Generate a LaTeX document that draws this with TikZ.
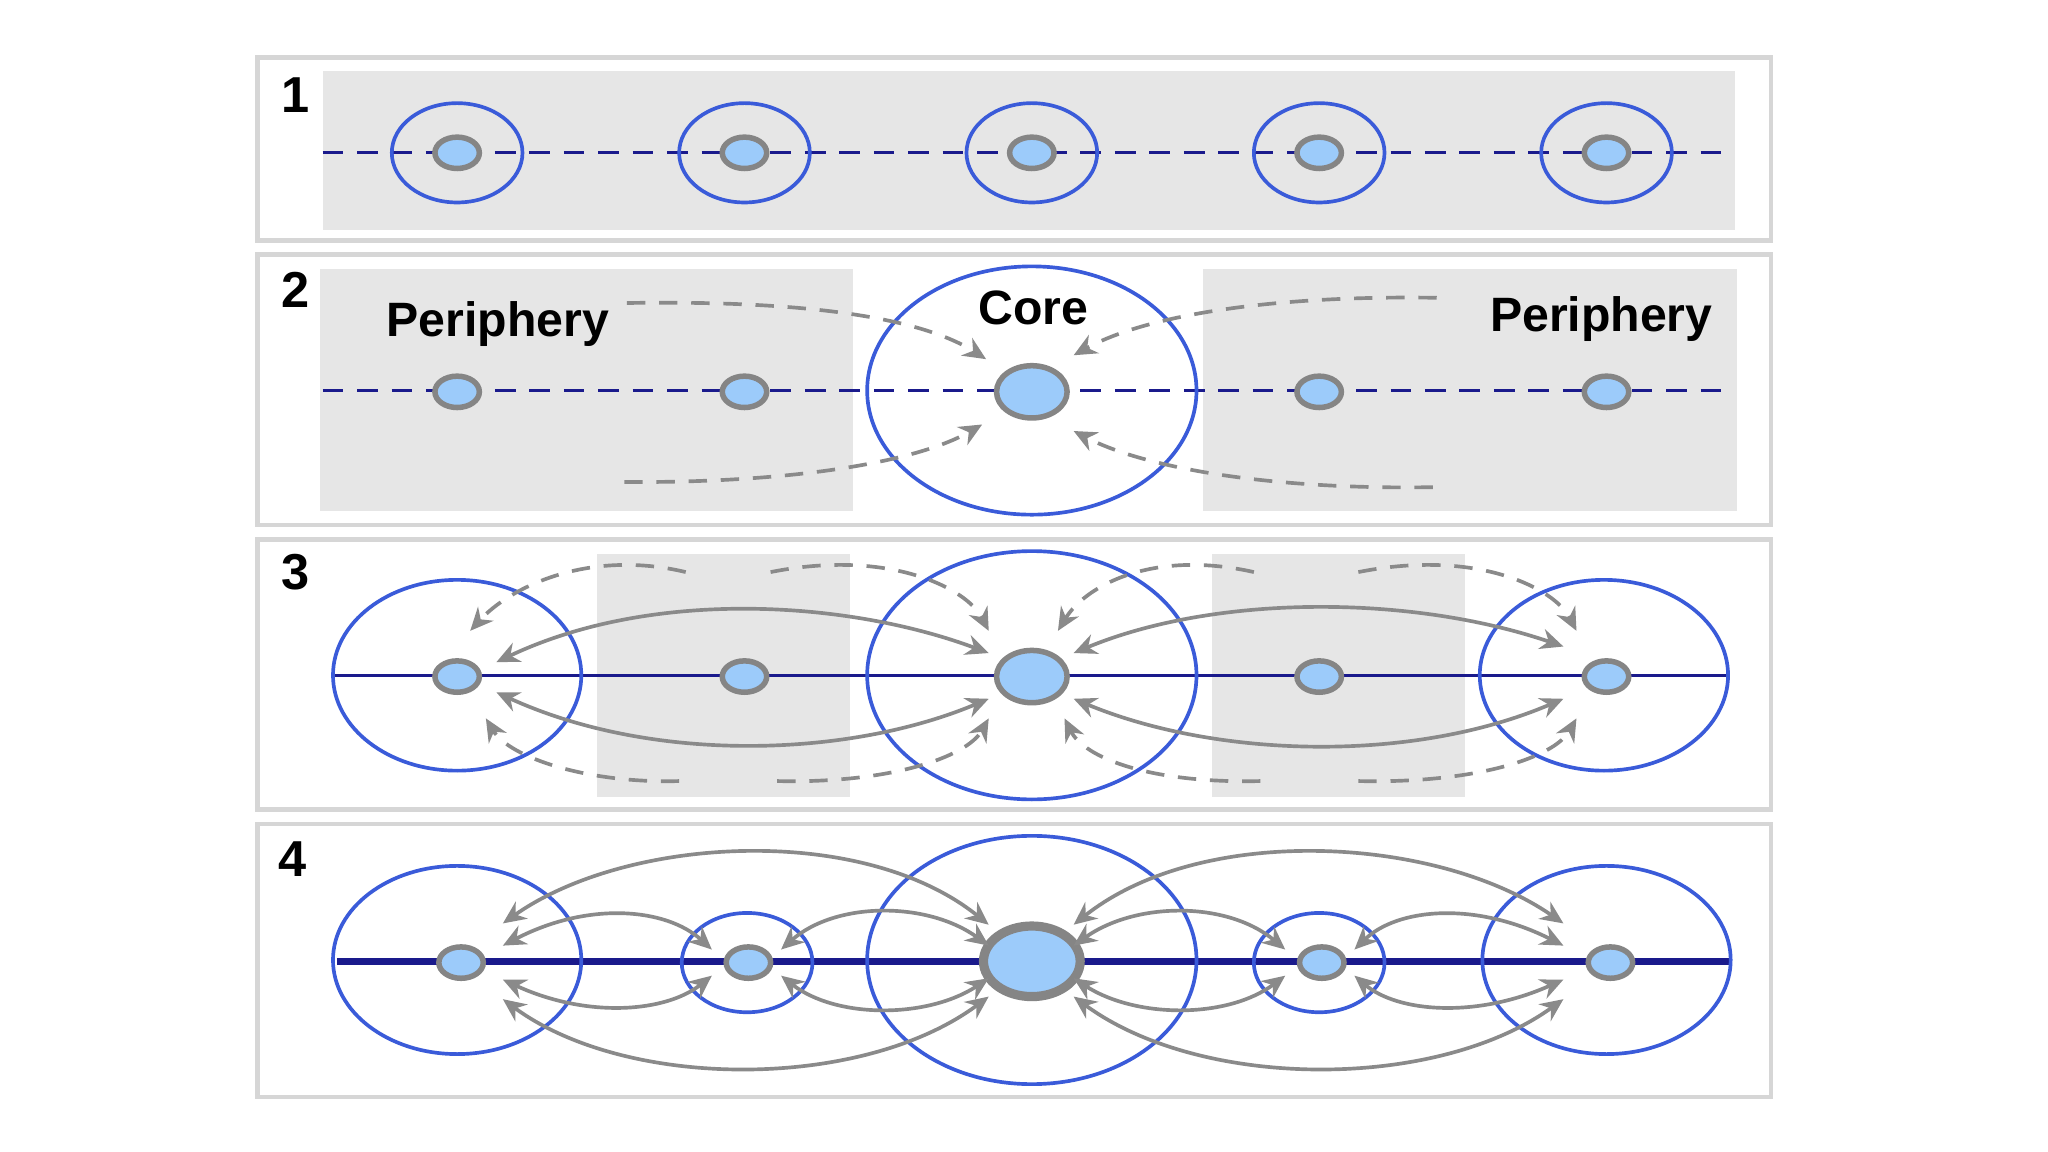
\documentclass[tikz,border=0pt]{standalone}
\usepackage{fontspec}
\setmainfont{Liberation Sans}
\usetikzlibrary{arrows.meta,shapes.geometric}
\definecolor{navy}{HTML}{1A1A8C}
\definecolor{ring}{HTML}{3A5BD9}
\definecolor{dotfill}{HTML}{9CCBFA}
\definecolor{dotline}{HTML}{858585}
\definecolor{panel}{HTML}{E6E6E6}
\definecolor{frame}{HTML}{D6D6D6}
\definecolor{arr}{HTML}{8A8A8A}
\tikzset{
 frm/.style={draw=frame,line width=1pt,fill=white},
 shade/.style={fill=panel,draw=none},
 ringl/.style={draw=ring,line width=0.8pt},
 dotn/.style={ellipse,draw=dotline,fill=dotfill,line width=1.2pt,inner sep=0pt,minimum width=0.34cm,minimum height=0.24cm},
 bigdot/.style={dotn,minimum width=0.54cm,minimum height=0.4cm},
 hugedot/.style={dotn,line width=2pt,minimum width=0.74cm,minimum height=0.54cm},
 axisd/.style={draw=navy,line width=0.7pt,dash pattern=on 4.5pt off 3pt},
 axiss/.style={draw=navy,line width=0.7pt},
 axist/.style={draw=navy,line width=1.6pt},
 ga/.style={draw=arr,line width=0.8pt,-{Stealth[length=5pt,width=4.5pt]}},
 gb/.style={draw=arr,line width=0.8pt,{Stealth[length=5pt,width=4.5pt]}-{Stealth[length=5pt,width=4.5pt]}},
 gd/.style={ga,dash pattern=on 4pt off 3pt},
 lab/.style={font=\bfseries\fontsize{10.5}{12}\selectfont},
 num/.style={font=\bfseries\fontsize{11}{13}\selectfont}
}
\begin{document}
\begin{tikzpicture}[x=0.01cm,y=-0.01cm]
\useasboundingbox (0,0) rectangle (1568,882);
% ---------- panel 1
\draw[frm] (197,44) rectangle (1356,184);
\fill[shade] (247,54) rectangle (1328,176);
\draw[axisd] (247,117) -- (1328,117);
\foreach \x [count=\i] in {350,570,790,1010,1230}{
 \draw[ringl] (\x,117) ellipse [x radius=0.5cm,y radius=0.38cm];
 \node[dotn] (a\i) at (\x,117) {};
}
\node[num] (n1) at (226,73) {1};
% ---------- panel 2
\draw[frm] (197,195) rectangle (1356,402);
\fill[shade] (245,206) rectangle (653,391);
\fill[shade] (921,206) rectangle (1330,391);
\fill[white] (790,299) ellipse [x radius=1.26cm,y radius=0.95cm];
\draw[axisd] (247,299) -- (1328,299);
\draw[ringl] (790,299) ellipse [x radius=1.26cm,y radius=0.95cm];
\node[dotn] (b1) at (350,300) {};
\node[dotn] (b2) at (570,300) {};
\node[bigdot] (b3) at (790,300) {};
\node[dotn] (b4) at (1010,300) {};
\node[dotn] (b5) at (1230,300) {};
\node[lab] (p1) at (381,248) {Periphery};
\node[lab] (c2) at (791,236) {Core};
\node[lab] (p2) at (1226,244) {Periphery};
\node[num] (n2) at (226,222) {2};
\coordinate (s1) at (480,232); \coordinate (e1) at (755,275);
\coordinate (s2) at (478,369); \coordinate (e2) at (752,325);
\coordinate (s3) at (1100,228); \coordinate (e3) at (822,272);
\coordinate (s4) at (1097,373); \coordinate (e4) at (822,330);
\draw[gd] (s1) .. controls (600,230) and (700,240) .. (e1);
\draw[gd] (s2) .. controls (600,370) and (700,355) .. (e2);
\draw[gd] (s3) .. controls (980,226) and (880,240) .. (e3);
\draw[gd] (s4) .. controls (980,375) and (880,360) .. (e4);
% ---------- panel 3
\draw[frm] (197,413) rectangle (1356,620);
\fill[shade] (457,424) rectangle (651,610);
\fill[shade] (928,424) rectangle (1122,610);
\fill[white] (790,517) ellipse [x radius=1.26cm,y radius=0.95cm];
\draw[axiss] (255,517) -- (1322,517);
\draw[ringl] (350,517) ellipse [x radius=0.95cm,y radius=0.73cm];
\draw[ringl] (790,517) ellipse [x radius=1.26cm,y radius=0.95cm];
\draw[ringl] (1228,517) ellipse [x radius=0.95cm,y radius=0.73cm];
\node[dotn] (c1) at (350,518) {};
\node[dotn] (c2n) at (570,518) {};
\node[bigdot] (c3) at (790,518) {};
\node[dotn] (c4) at (1010,518) {};
\node[dotn] (c5) at (1230,518) {};
\node[num] (n3) at (226,438) {3};
\draw[gb] (380,507) .. controls (500,450) and (650,460) .. (757,500);
\draw[gb] (380,530) .. controls (500,585) and (650,580) .. (757,535);
\draw[gb] (822,500) .. controls (930,455) and (1080,455) .. (1197,495);
\draw[gb] (822,535) .. controls (930,580) and (1080,585) .. (1197,535);
\draw[gd] (525,438) .. controls (450,420) and (390,450) .. (360,483);
\draw[gd] (590,438) .. controls (680,420) and (740,450) .. (757,483);
\draw[gd] (520,598) .. controls (450,600) and (390,580) .. (372,550);
\draw[gd] (595,598) .. controls (680,600) and (740,580) .. (757,550);
\draw[gd] (960,438) .. controls (880,420) and (830,450) .. (810,483);
\draw[gd] (1040,438) .. controls (1130,420) and (1190,450) .. (1207,483);
\draw[gd] (965,598) .. controls (880,600) and (830,580) .. (815,550);
\draw[gd] (1040,598) .. controls (1130,600) and (1190,580) .. (1207,550);
% ---------- panel 4
\draw[frm] (197,631) rectangle (1356,840);
\draw[axist] (258,736) -- (1325,736);
\draw[ringl] (350,735) ellipse [x radius=0.95cm,y radius=0.72cm];
\draw[ringl] (572,737) ellipse [x radius=0.5cm,y radius=0.38cm];
\draw[ringl] (790,735) ellipse [x radius=1.26cm,y radius=0.95cm];
\draw[ringl] (1010,737) ellipse [x radius=0.5cm,y radius=0.38cm];
\draw[ringl] (1230,735) ellipse [x radius=0.95cm,y radius=0.72cm];
\node[dotn] (d1) at (353,737) {};
\node[dotn] (d2) at (573,737) {};
\node[hugedot] (d3) at (790,736) {};
\node[dotn] (d4) at (1012,737) {};
\node[dotn] (d5) at (1233,737) {};
\node[num] (n4) at (224,658) {4};
\draw[gb] (385,707) .. controls (480,640) and (660,630) .. (757,708);
\draw[gb] (385,765) .. controls (480,835) and (660,835) .. (757,763);
\draw[gb] (385,724) .. controls (450,690) and (510,695) .. (545,727);
\draw[gb] (385,750) .. controls (450,780) and (510,775) .. (545,747);
\draw[gb] (598,727) .. controls (640,690) and (710,690) .. (757,724);
\draw[gb] (598,747) .. controls (640,780) and (710,780) .. (757,749);
\draw[gb] (822,708) .. controls (920,630) and (1100,640) .. (1197,707);
\draw[gb] (822,763) .. controls (920,835) and (1100,835) .. (1197,765);
\draw[gb] (822,724) .. controls (870,690) and (940,690) .. (984,727);
\draw[gb] (822,749) .. controls (870,780) and (940,780) .. (984,747);
\draw[gb] (1037,727) .. controls (1070,695) and (1130,690) .. (1197,724);
\draw[gb] (1037,747) .. controls (1070,775) and (1130,780) .. (1197,750);
\end{tikzpicture}
\end{document}
